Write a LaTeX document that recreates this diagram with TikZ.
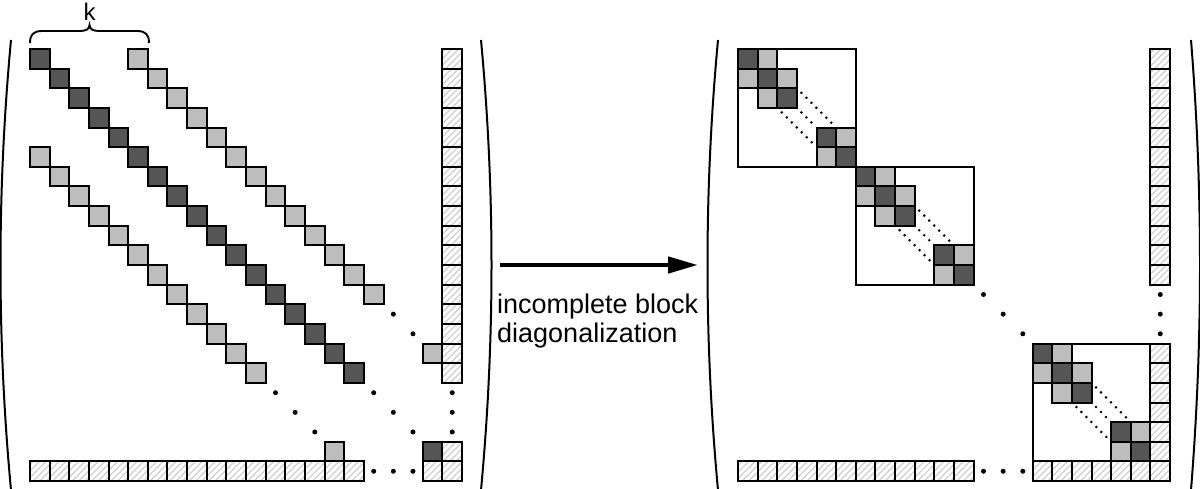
\documentclass[tikz,border=0pt]{standalone}
\usepackage{fontspec}
\setmainfont{Liberation Sans}
\usetikzlibrary{patterns.meta,arrows.meta}
\definecolor{darkcell}{HTML}{555555}
\definecolor{lightcell}{HTML}{BDBDBD}
\definecolor{hatchline}{HTML}{D2D2D2}
\tikzset{
  cellbox/.style={draw=black, line width=2pt},
  darkc/.style={cellbox, fill=darkcell},
  lightc/.style={cellbox, fill=lightcell},
  hatchc/.style={cellbox, pattern={Lines[angle=45,distance=4.6pt,line width=1.4pt]}, pattern color=hatchline},
  boxl/.style={draw=black, line width=2pt},
  dotl/.style={line width=2.8pt, line cap=round, dash pattern=on 0pt off 7.05pt},
  paren/.style={line width=2pt},
  bigarrow/.style={line width=4.5pt, -{Triangle[length=30pt,width=16pt]}},
  lbl/.style={inner sep=0pt, font=\fontsize{27}{29}\selectfont},
}
\def\cs{19.64}
\newcommand{\mcell}[4]{\path[#1] ({#2+(#3)*\cs},{49+(#4)*\cs}) rectangle ++(\cs,\cs);}
\newcommand{\mdot}[3]{\fill ({#1+(#2+0.5)*\cs},{49+(#3+0.5)*\cs}) circle[radius=2.5];}
\newcommand{\mdotline}[5]{\draw[dotl] ({#1+(#2)*\cs+4.5},{49+(#3)*\cs+4.5}) -- ({#1+(#4)*\cs-4.5},{49+(#5)*\cs-4.5});}
\newcommand{\blk}[3]{%
  \draw[boxl] ({#1+(#2)*\cs},{49+(#2)*\cs}) rectangle ++({#3*\cs},{#3*\cs});
  \mcell{darkc}{#1}{#2}{#2}
  \mcell{lightc}{#1}{#2+1}{#2}
  \mcell{lightc}{#1}{#2}{#2+1}
  \mcell{darkc}{#1}{#2+1}{#2+1}
  \mcell{lightc}{#1}{#2+2}{#2+1}
  \mcell{lightc}{#1}{#2+1}{#2+2}
  \mcell{darkc}{#1}{#2+2}{#2+2}
  \mcell{darkc}{#1}{#2+4}{#2+4}
  \mcell{lightc}{#1}{#2+5}{#2+4}
  \mcell{lightc}{#1}{#2+4}{#2+5}
  \mcell{darkc}{#1}{#2+5}{#2+5}
  \mdotline{#1}{#2+3}{#2+2}{#2+5}{#2+4}
  \mdotline{#1}{#2+3}{#2+3}{#2+4}{#2+4}
  \mdotline{#1}{#2+2}{#2+3}{#2+4}{#2+5}
}
\begin{document}
\begin{tikzpicture}[x=1pt,y=-1pt]
\fill[white] (0,0) rectangle (1200,488);
\useasboundingbox (0,0) rectangle (1200,488);
% ---------- left matrix (x0 = 30)
\def\xl{30}
\foreach \i in {0,...,16} {\mcell{darkc}{\xl}{\i}{\i}}
\mcell{darkc}{\xl}{20}{20}
\foreach \i in {0,...,12} {\mcell{lightc}{\xl}{\i+5}{\i}}
\mcell{lightc}{\xl}{20}{15}
\foreach \i in {0,...,11} {\mcell{lightc}{\xl}{\i}{\i+5}}
\mcell{lightc}{\xl}{15}{20}
\foreach \i in {0,...,16} {\mcell{hatchc}{\xl}{21}{\i}}
\foreach \i in {0,...,16} {\mcell{hatchc}{\xl}{\i}{21}}
\mcell{hatchc}{\xl}{21}{20}
\mcell{hatchc}{\xl}{20}{21}
\mcell{hatchc}{\xl}{21}{21}
\foreach \i in {17,18,19} {\mdot{\xl}{\i}{\i}\mdot{\xl}{21}{\i}\mdot{\xl}{\i}{21}}
\mdot{\xl}{18}{13}\mdot{\xl}{19}{14}
\mdot{\xl}{12}{17}\mdot{\xl}{13}{18}\mdot{\xl}{14}{19}
% brace and k
\draw[line width=1.9pt] (30,43) .. controls (30,35) and (33,31) .. (42,31) -- (80,31)
  .. controls (86,31) and (89.5,29) .. (89.5,25) .. controls (89.5,29) and (93,31) .. (99,31)
  -- (137,31) .. controls (146,31) and (149,35) .. (149,43);
\node[inner sep=0pt, anchor=base, font=\fontsize{24}{24}\selectfont] (klab) at (89.5,20.5) {k};
% parentheses
\draw[paren] (11,40) .. controls (-3,190) and (-3,340) .. (11,490);
\draw[paren] (481,40) .. controls (495,190) and (495,340) .. (481,490);
% ---------- right matrix (x0 = 738)
\def\xr{738}
\blk{\xr}{0}{6}
\blk{\xr}{6}{6}
\blk{\xr}{15}{7}
\foreach \i in {0,...,11} {\mcell{hatchc}{\xr}{21}{\i}\mcell{hatchc}{\xr}{\i}{21}}
\foreach \i in {15,...,21} {\mcell{hatchc}{\xr}{21}{\i}}
\foreach \i in {15,...,20} {\mcell{hatchc}{\xr}{\i}{21}}
\foreach \i in {12,13,14} {\mdot{\xr}{\i}{\i}\mdot{\xr}{21}{\i}\mdot{\xr}{\i}{21}}
\draw[paren] (718,40) .. controls (704,190) and (704,340) .. (718,490);
\draw[paren] (1191,40) .. controls (1203,190) and (1203,340) .. (1191,490);
% ---------- arrow and label
\coordinate (arrS) at (500,265);
\coordinate (arrE) at (698,265);
\draw[bigarrow] (arrS) -- (arrE);
\node[lbl, anchor=base west] (t1) at (497,313) {incomplete block};
\node[lbl, anchor=base west] (t2) at (497,342) {diagonalization};
\end{tikzpicture}
\end{document}
